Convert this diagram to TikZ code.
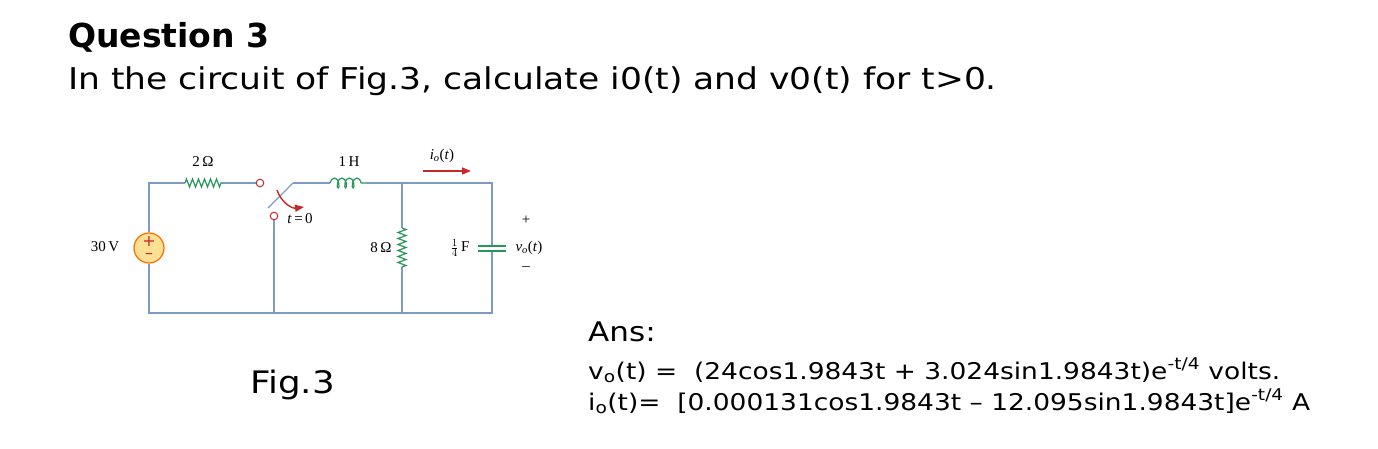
\documentclass[tikz,border=0pt]{standalone}
\usepackage{fontspec}
\setmainfont{DejaVu Sans}
\newfontfamily\tms{Liberation Serif}
\newfontfamily\wide[FakeStretch=1.15]{DejaVu Sans}
\usetikzlibrary{decorations.pathmorphing,arrows.meta}
\definecolor{wirec}{RGB}{125,155,195}
\definecolor{compc}{RGB}{40,150,90}
\definecolor{redc}{RGB}{200,40,40}
\begin{document}
\begin{tikzpicture}[x=1pt,y=-1pt,
  wire/.style={draw=wirec,line width=1.3pt},
  comp/.style={draw=compc,line width=1.2pt},
  red arrow/.style={draw=redc,line width=1.4pt,-{Triangle[length=9pt,width=7pt]}},
  lbl/.style={font=\tms\fontsize{15}{15}\selectfont,inner sep=1pt},
  txt/.style={anchor=base west,inner sep=0pt}]
\useasboundingbox (0,0) rectangle (1378,449);
\node[txt,font=\bfseries\fontsize{33}{33}\selectfont] (title) at (68,48) {Question 3};
\node[txt,font=\wide\fontsize{30}{30}\selectfont] (q) at (68,90) {In the circuit of Fig.3, calculate i0(t) and v0(t) for t>0.};
\node[txt,font=\wide\fontsize{31}{31}\selectfont] (fig) at (250,393) {Fig.3};
\node[txt,font=\wide\fontsize{27}{27}\selectfont] (ans) at (588,341) {Ans:};
\node[txt,font=\wide\fontsize{23}{23}\selectfont] (a1) at (588,379) {v\textsubscript{o}(t) = \ (24cos1.9843t + 3.024sin1.9843t)e\textsuperscript{-t/4} volts.};
\node[txt,font=\wide\fontsize{23}{23}\selectfont] (a2) at (588,410) {i\textsubscript{o}(t)= \ [0.000131cos1.9843t – 12.095sin1.9843t]e\textsuperscript{-t/4} A};
% coordinates
\coordinate (tl) at (149,183); \coordinate (bl) at (149,313);
\coordinate (r1a) at (185,183); \coordinate (r1b) at (222,183);
\coordinate (s1) at (260,183); \coordinate (s2) at (274,216);
\coordinate (bs) at (274,313);
\coordinate (sb1) at (268,208); \coordinate (sb2) at (293,183);
\coordinate (la) at (330,183); \coordinate (lb) at (367,183);
\coordinate (n) at (402,183); \coordinate (nb) at (402,313);
\coordinate (rt) at (492,183); \coordinate (rb) at (492,313);
\coordinate (r8a) at (402,228); \coordinate (r8b) at (402,268);
\coordinate (ct) at (492,246); \coordinate (cb) at (492,251);
% source
\node[circle,draw=orange!85!red,fill=yellow!45!orange!40,line width=1.2pt,minimum size=30pt,inner sep=0pt] (src) at (149,248) {};
\node[font=\fontsize{16}{16}\selectfont,text=redc] at (149,241) {+};
\node[font=\fontsize{16}{16}\selectfont,text=redc] at (149,256) {–};
\path[wire] (src.north) -- (tl) -- (r1a);
\path[wire] (src.south) -- (bl) -- (rb) -- (cb);
\path[wire] (ct) -- (rt) -- (lb);
\path[wire] (r1b) -- (256,183);
\path[wire] (la) -- (sb2);
\path[wire] (sb2) -- (sb1);
\path[wire] (274,220) -- (bs);
\path[wire] (n) -- (r8a); \path[wire] (r8b) -- (nb);
\draw[comp,decorate,decoration={zigzag,segment length=6pt,amplitude=4pt}] (r1a) -- (r1b);
\draw[comp,decorate,decoration={zigzag,segment length=6pt,amplitude=4pt}] (r8a) -- (r8b);
\draw[comp,decorate,decoration={coil,aspect=0.5,segment length=7.5pt,amplitude=5pt}] (la) -- (lb);
\draw[comp] (478,246) -- (506,246); \draw[comp] (478,251) -- (506,251);
\draw[draw=redc,line width=1pt] (s1) circle (3.8pt);
\draw[draw=redc,line width=1pt] (s2) circle (3.8pt);
\draw[red arrow] (277,190) to[bend right=40] (304,207);
\draw[red arrow] (423,171) -- (471,171);
% labels
\node[lbl] (l2) at (203,162) {2\,Ω};
\node[lbl] (l1h) at (349,162) {1\,H};
\node[lbl] (lio) at (442,156) {\textit{i\textsubscript{o}}(\textit{t})};
\node[lbl] (lt0) at (300,219) {\textit{t}\,=\,0};
\node[lbl] (l30) at (105,247) {30\,V};
\node[lbl] (l8) at (381,248) {8\,Ω};
\node[lbl] (lf) at (460,248) {$\frac{1}{4}$\,F};
\node[lbl] (lplus) at (526,220) {+};
\node[lbl] (lvo) at (529,248) {\textit{v\textsubscript{o}}(\textit{t})};
\node[lbl] (lminus) at (526,269) {–};
\end{tikzpicture}
\end{document}
